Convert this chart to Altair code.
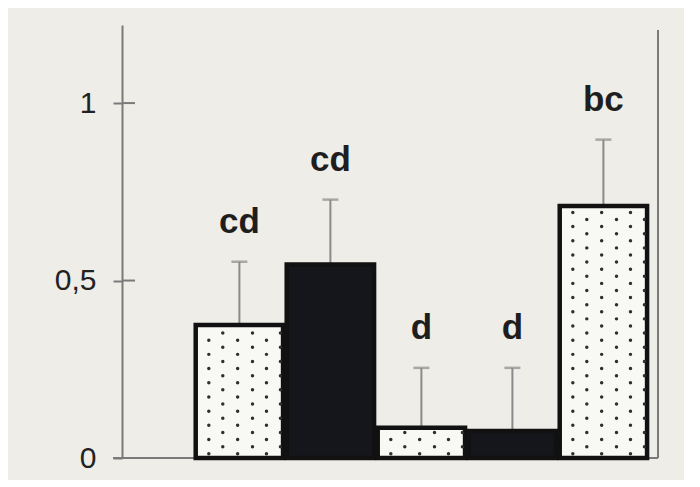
import altair as alt
import pandas as pd

# ---- data ----
groups = ["A", "B", "C", "D", "E"]
means = [0.375, 0.545, 0.085, 0.076, 0.71]
uppers = [0.553, 0.728, 0.254, 0.254, 0.897]
letters = ["cd", "cd", "d", "d", "bc"]
dotted = [True, False, True, False, True]
tick_values = [0, 0.5, 1]

df = pd.DataFrame({"g": groups, "i": list(range(len(groups))), "mean": means,
                   "upper": uppers, "letter": letters, "dotted": dotted})

# dot texture inside the dotted bars (decoration only)
rows = []
for i, (m, d) in enumerate(zip(means, dotted)):
    if not d:
        continue
    k = 0
    y = 0.012
    while y < m - 0.01:
        offs = [0.15, 0.48, 0.81] if k % 2 == 0 else [0.31, 0.65, 0.97]
        for o in offs:
            rows.append({"i": i, "y": y, "o": o})
        y += 0.02
        k += 1
dots = pd.DataFrame(rows)

W, H = 536, 433
FONT = "Liberation Sans"
START, HALF = 1.29, 0.48

xscale = alt.Scale(domain=[0, 5.89], nice=False, zero=False)
yscale = alt.Scale(domain=[0, 1.22], nice=False)

def base(data):
    return alt.Chart(data).transform_calculate(
        c=f"datum.i + {START}", l=f"datum.i + {START} - {HALF}",
        r=f"datum.i + {START} + {HALF}")

Xc = alt.X("c:Q", scale=xscale, axis=None)

baseline = alt.Chart(pd.DataFrame({"v": [0]})).mark_rule(
    color="#7a7a7a", strokeWidth=2
).encode(y=alt.Y("v:Q", scale=yscale), x=alt.value(-9), x2=alt.value(W))

inner_ticks = alt.Chart(pd.DataFrame({"v": tick_values})).mark_rule(
    color="#7a7a7a", strokeWidth=2
).encode(y=alt.Y("v:Q", scale=yscale), x=alt.value(0), x2=alt.value(13))

right_line = alt.Chart(pd.DataFrame({"v": [0]})).mark_rule(
    color="#555555", strokeWidth=1.5
).encode(x=alt.value(W), y=alt.value(5), y2=alt.value(H))

err = base(df).mark_rule(color="#8a8a8a", strokeWidth=2).encode(
    x=Xc, y=alt.Y("mean:Q", scale=yscale,
                  axis=alt.Axis(values=tick_values, title=None, grid=False,
                                labelExpr="replace(toString(datum.value), '.', ',')",
                                domainColor="#7a7a7a", domainWidth=2,
                                tickColor="#7a7a7a", tickWidth=2, tickSize=9,
                                labelPadding=17, labelFontSize=30, labelFont=FONT,
                                labelColor="#222222")),
    y2="upper:Q")

caps = base(df).mark_tick(color="#8a8a8a", thickness=2.5, size=16,
                          orient="horizontal").encode(
    x=Xc, y=alt.Y("upper:Q", scale=yscale))

bars = base(df).mark_rect(stroke="#111111", strokeWidth=4.5).encode(
    x=alt.X("l:Q", scale=xscale, axis=None), x2="r:Q",
    y=alt.Y("mean:Q", scale=yscale), y2=alt.datum(0),
    fill=alt.condition("datum.dotted", alt.value("#f8f8f5"), alt.value("#15151c")))

dot_layer = alt.Chart(dots).transform_calculate(
    dx=f"datum.i + {START} - {HALF} + datum.o * {2 * HALF}"
).mark_circle(color="#2e2e2e", size=12, opacity=1).encode(
    x=alt.X("dx:Q", scale=xscale, axis=None),
    y=alt.Y("y:Q", scale=yscale))

labels = base(df).mark_text(font=FONT, fontWeight="bold", fontSize=35,
                            color="#1e1e1e", baseline="bottom", dy=-22).encode(
    x=Xc, y=alt.Y("upper:Q", scale=yscale), text="letter:N")

chart = alt.layer(right_line, baseline, err, caps, bars, dot_layer, labels,
                  inner_ticks).properties(
    width=W, height=H, background="#eeede8",
    padding={"left": 114, "top": 17, "right": 26, "bottom": 22},
    autosize=alt.AutoSizeParams(type="none"),
).configure_view(stroke=None)

chart.save("out.html", embed_options={"renderer": "svg", "actions": False})
